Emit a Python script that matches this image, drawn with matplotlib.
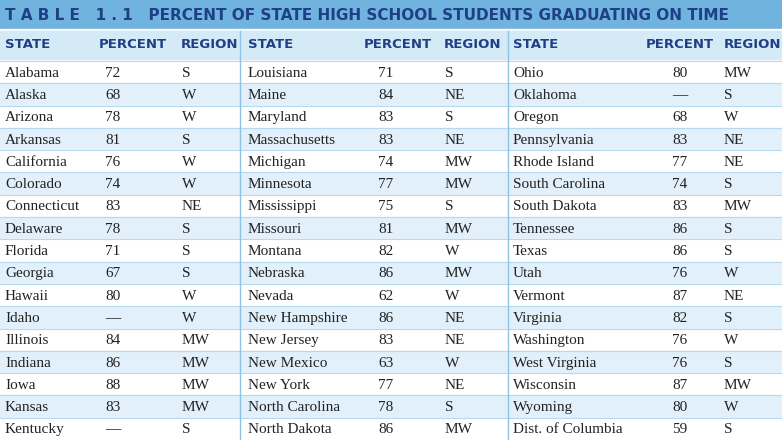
import matplotlib
matplotlib.use("Agg")
import matplotlib.pyplot as plt
from matplotlib.patches import Rectangle

title = "T A B L E   1 . 1   PERCENT OF STATE HIGH SCHOOL STUDENTS GRADUATING ON TIME"
headers = ["STATE", "PERCENT", "REGION"]

states1 = ["Alabama","Alaska","Arizona","Arkansas","California","Colorado","Connecticut","Delaware","Florida","Georgia","Hawaii","Idaho","Illinois","Indiana","Iowa","Kansas","Kentucky"]
pct1 = ["72","68","78","81","76","74","83","78","71","67","80","—","84","86","88","83","—"]
reg1 = ["S","W","W","S","W","W","NE","S","S","S","W","W","MW","MW","MW","MW","S"]

states2 = ["Louisiana","Maine","Maryland","Massachusetts","Michigan","Minnesota","Mississippi","Missouri","Montana","Nebraska","Nevada","New Hampshire","New Jersey","New Mexico","New York","North Carolina","North Dakota"]
pct2 = ["71","84","83","83","74","77","75","81","82","86","62","86","83","63","77","78","86"]
reg2 = ["S","NE","S","NE","MW","MW","S","MW","W","MW","W","NE","NE","W","NE","S","MW"]

states3 = ["Ohio","Oklahoma","Oregon","Pennsylvania","Rhode Island","South Carolina","South Dakota","Tennessee","Texas","Utah","Vermont","Virginia","Washington","West Virginia","Wisconsin","Wyoming","Dist. of Columbia"]
pct3 = ["80","—","68","83","77","74","83","86","86","76","87","82","76","76","87","80","59"]
reg3 = ["MW","S","W","NE","NE","S","MW","S","S","W","NE","S","W","S","MW","W","S"]

groups = [(states1, pct1, reg1), (states2, pct2, reg2), (states3, pct3, reg3)]

W, H = 782, 440
fig = plt.figure(figsize=(W/100, H/100), dpi=100)
ax = fig.add_axes([0, 0, 1, 1])
ax.set_xlim(0, W); ax.set_ylim(H, 0); ax.axis("off")

navy = "#1f3f86"
ax.add_patch(Rectangle((0, 0), W, 29, color="#6fb3de"))
ax.add_patch(Rectangle((0, 29), W, 2, color="#ffffff"))
ax.add_patch(Rectangle((0, 31), W, 28, color="#d5eaf7"))
ax.text(5, 15, title, fontsize=11, fontweight="bold", color=navy, va="center", family="DejaVu Sans")

top = 61; rh = 22.3
nrows = len(states1)
for i in range(nrows):
    y0 = top + i*rh
    ax.add_patch(Rectangle((0, y0), W, rh, color="#ffffff" if i % 2 == 0 else "#e1f0fa"))
    ax.plot([0, W], [y0, y0], color="#b7d9ef", lw=0.8)

col_x = [(5, 113, 182), (248, 386, 445), (513, 680, 724)]
hdr_x = [(5, 133, 181), (248, 398, 444), (513, 680, 724)]
bounds = [240, 508]
for b in bounds:
    ax.plot([b, b], [31, H], color="#8fc3e6", lw=1)

for g, (st, pc, rg) in enumerate(groups):
    hx = hdr_x[g]
    ax.text(hx[0], 45, headers[0], fontsize=9.5, fontweight="bold", color=navy, va="center", family="DejaVu Sans Condensed")
    ax.text(hx[1], 45, headers[1], fontsize=9.5, fontweight="bold", color=navy, va="center", ha="center", family="DejaVu Sans Condensed")
    ax.text(hx[2], 45, headers[2], fontsize=9.5, fontweight="bold", color=navy, va="center", family="DejaVu Sans Condensed")
    cx = col_x[g]
    for i in range(nrows):
        yc = top + i*rh + rh/2 + 1
        ax.text(cx[0], yc, st[i], fontsize=11, va="center", family="Liberation Serif", color="#222222")
        ax.text(cx[1], yc, pc[i], fontsize=11, va="center", ha="center", family="Liberation Serif", color="#222222")
        ax.text(cx[2], yc, rg[i], fontsize=11, va="center", ha="left", family="Liberation Serif", color="#222222")

fig.savefig("out.png", dpi=100)
